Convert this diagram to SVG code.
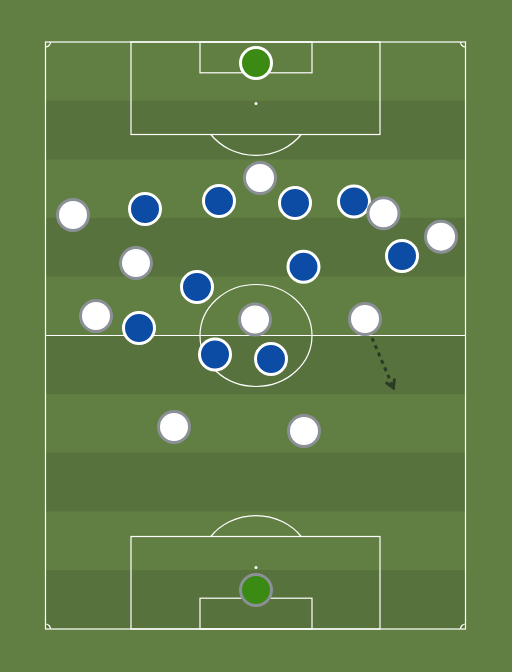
<svg xmlns="http://www.w3.org/2000/svg" width="512" height="672" viewBox="0 0 512 672">
<style>
.line{fill:none;stroke:#ffffff;stroke-width:1.2}
.stripe{fill:#58723d}
.w{fill:#ffffff;stroke:#8b9097;stroke-width:3}
.b{fill:#0d4ca4;stroke:#ffffff;stroke-width:3}
.gk1{fill:#3b8a14;stroke:#ffffff;stroke-width:3}
.gk2{fill:#3b8a14;stroke:#8b9097;stroke-width:3}
.run{fill:none;stroke:#2b3c24;stroke-width:3;stroke-dasharray:4 4}
</style>
<defs>
<marker id="ah" viewBox="0 0 10 10" refX="7" refY="5" markerWidth="4" markerHeight="4" orient="auto" markerUnits="strokeWidth">
<path d="M1,1 L8,5 L1,9" fill="none" stroke="#2b3c24" stroke-width="2.4"/>
</marker>
</defs>
<rect x="0" y="0" width="512" height="672" fill="#627f43"/>
<g id="pitch">
<rect class="stripe" x="45.5" y="100.7" width="420" height="58.7"/>
<rect class="stripe" x="45.5" y="217.8" width="420" height="58.7"/>
<rect class="stripe" x="45.5" y="335.2" width="420" height="58.7"/>
<rect class="stripe" x="45.5" y="452.6" width="420" height="58.7"/>
<rect class="stripe" x="45.5" y="570" width="420" height="58.7"/>
<rect class="line" x="45.5" y="42" width="420" height="587"/>
<line class="line" x1="45.5" y1="335.5" x2="465.5" y2="335.5"/>
<ellipse class="line" cx="256" cy="335.5" rx="56" ry="51"/>
<rect class="line" x="131" y="42" width="249" height="92.5"/>
<rect class="line" x="200" y="42" width="112" height="30.8"/>
<circle cx="256" cy="103.5" r="1.5" fill="#ffffff"/>
<path class="line" d="M210.8,134.5 A56,51 0 0 0 301.2,134.5"/>
<rect class="line" x="131" y="536.5" width="249" height="92.5"/>
<rect class="line" x="200" y="598.2" width="112" height="30.8"/>
<circle cx="256" cy="567.5" r="1.5" fill="#ffffff"/>
<path class="line" d="M210.8,536.5 A56,51 0 0 1 301.2,536.5"/>
<path class="line" d="M45.5,47 A5,5 0 0 0 50.5,42"/>
<path class="line" d="M460.5,42 A5,5 0 0 0 465.5,47"/>
<path class="line" d="M45.5,624 A5,5 0 0 1 50.5,629"/>
<path class="line" d="M460.5,629 A5,5 0 0 1 465.5,624"/>
</g>
<g id="connectors">
<path class="run" d="M372,338 L393,387" marker-end="url(#ah)"/>
</g>
<g id="gk-top"><circle class="gk1" cx="256" cy="63" r="15.5"/></g>
<g id="b1"><circle class="b" cx="145" cy="209" r="15.5"/></g>
<g id="b2"><circle class="b" cx="219" cy="201" r="15.5"/></g>
<g id="b3"><circle class="b" cx="295" cy="203" r="15.5"/></g>
<g id="b4"><circle class="b" cx="354" cy="201.5" r="15.5"/></g>
<g id="b5"><circle class="b" cx="402" cy="256" r="15.5"/></g>
<g id="b6"><circle class="b" cx="303.5" cy="266.8" r="15.5"/></g>
<g id="b7"><circle class="b" cx="197" cy="287" r="15.5"/></g>
<g id="b8"><circle class="b" cx="139" cy="328" r="15.5"/></g>
<g id="b9"><circle class="b" cx="215" cy="354.5" r="15.5"/></g>
<g id="b10"><circle class="b" cx="271" cy="359" r="15.5"/></g>
<g id="w1"><circle class="w" cx="260" cy="178" r="15.5"/></g>
<g id="w2"><circle class="w" cx="73" cy="215" r="15.5"/></g>
<g id="w3"><circle class="w" cx="383.5" cy="213.3" r="15.5"/></g>
<g id="w4"><circle class="w" cx="441" cy="236.7" r="15.5"/></g>
<g id="w5"><circle class="w" cx="136" cy="263" r="15.5"/></g>
<g id="w6"><circle class="w" cx="96" cy="316" r="15.5"/></g>
<g id="w7"><circle class="w" cx="255" cy="319.5" r="15.5"/></g>
<g id="w8"><circle class="w" cx="365" cy="319" r="15.5"/></g>
<g id="w9"><circle class="w" cx="174" cy="427" r="15.5"/></g>
<g id="w10"><circle class="w" cx="304" cy="431" r="15.5"/></g>
<g id="gk-bottom"><circle class="gk2" cx="256" cy="590" r="15.5"/></g>
</svg>
